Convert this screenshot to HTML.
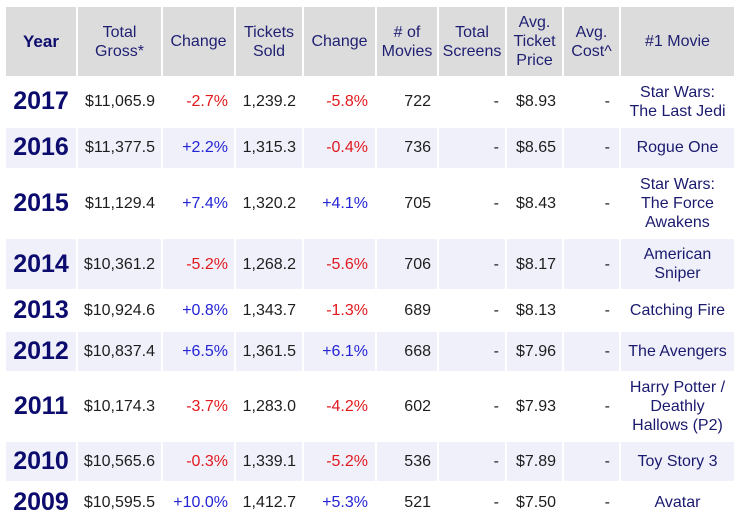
<!DOCTYPE html>
<html><head><meta charset="utf-8">
<style>
html,body{margin:0;padding:0;background:#fff;}
body{width:745px;height:524px;position:relative;overflow:hidden;font-family:"Liberation Sans",Arial,sans-serif;font-size:16px;color:#1e1e1e;}
.r{position:absolute;left:6px;display:flex;gap:2px;}
.c{height:100%;box-sizing:border-box;display:flex;align-items:center;justify-content:flex-end;padding:0 6px;line-height:19px;white-space:nowrap;}
.h .c{background:#dcdcdc;color:#1f1f72;justify-content:center;text-align:center;padding:0 2px;}
.b .c{background:#f0f0fb;}
.c1{width:70px;justify-content:center;padding:0;}
.c2{width:83px;}
.c3{width:71px;}
.c4{width:66px;}
.c5{width:71px;padding-right:7px;}
.c6{width:60px;}
.c7{width:66px;}
.c8{width:55px;}
.c9{width:55px;padding-right:9px;}
.c10{width:113px;justify-content:center;text-align:center;color:#1a1a6e;padding:0 2px;}
.y{font-weight:bold;font-size:25px;color:#0c0c6e;}
.h .c1{font-weight:bold;font-size:17px;color:#0c0c6e;}
.n{color:#e0191e;}
.p{color:#2424d4;}
</style></head><body>

<div class="r h" style="top:7px;height:69px">
<div class="c c1">Year</div>
<div class="c c2">Total<br>Gross*</div>
<div class="c c3">Change</div>
<div class="c c4">Tickets<br>Sold</div>
<div class="c c5">Change</div>
<div class="c c6"># of<br>Movies</div>
<div class="c c7">Total<br>Screens</div>
<div class="c c8">Avg.<br>Ticket<br>Price</div>
<div class="c c9">Avg.<br>Cost^</div>
<div class="c c10">#1 Movie</div>
</div>

<div class="r" style="top:77.2px;height:49.6px">
<div class="c c1 y">2017</div>
<div class="c c2">$11,065.9</div>
<div class="c c3 n">-2.7%</div>
<div class="c c4">1,239.2</div>
<div class="c c5 n">-5.8%</div>
<div class="c c6">722</div>
<div class="c c7">-</div>
<div class="c c8">$8.93</div>
<div class="c c9">-</div>
<div class="c c10">Star Wars:<br>The Last Jedi</div>
</div>

<div class="r b" style="top:128.3px;height:39.4px">
<div class="c c1 y">2016</div>
<div class="c c2">$11,377.5</div>
<div class="c c3 p">+2.2%</div>
<div class="c c4">1,315.3</div>
<div class="c c5 n">-0.4%</div>
<div class="c c6">736</div>
<div class="c c7">-</div>
<div class="c c8">$8.65</div>
<div class="c c9">-</div>
<div class="c c10">Rogue One</div>
</div>

<div class="r" style="top:169.2px;height:68.5px">
<div class="c c1 y">2015</div>
<div class="c c2">$11,129.4</div>
<div class="c c3 p">+7.4%</div>
<div class="c c4">1,320.2</div>
<div class="c c5 p">+4.1%</div>
<div class="c c6">705</div>
<div class="c c7">-</div>
<div class="c c8">$8.43</div>
<div class="c c9">-</div>
<div class="c c10">Star Wars:<br>The Force<br>Awakens</div>
</div>

<div class="r b" style="top:239.2px;height:50.1px">
<div class="c c1 y">2014</div>
<div class="c c2">$10,361.2</div>
<div class="c c3 n">-5.2%</div>
<div class="c c4">1,268.2</div>
<div class="c c5 n">-5.6%</div>
<div class="c c6">706</div>
<div class="c c7">-</div>
<div class="c c8">$8.17</div>
<div class="c c9">-</div>
<div class="c c10">American<br>Sniper</div>
</div>

<div class="r" style="top:290.8px;height:39.4px">
<div class="c c1 y">2013</div>
<div class="c c2">$10,924.6</div>
<div class="c c3 p">+0.8%</div>
<div class="c c4">1,343.7</div>
<div class="c c5 n">-1.3%</div>
<div class="c c6">689</div>
<div class="c c7">-</div>
<div class="c c8">$8.13</div>
<div class="c c9">-</div>
<div class="c c10">Catching Fire</div>
</div>

<div class="r b" style="top:331.7px;height:39px">
<div class="c c1 y">2012</div>
<div class="c c2">$10,837.4</div>
<div class="c c3 p">+6.5%</div>
<div class="c c4">1,361.5</div>
<div class="c c5 p">+6.1%</div>
<div class="c c6">668</div>
<div class="c c7">-</div>
<div class="c c8">$7.96</div>
<div class="c c9">-</div>
<div class="c c10">The Avengers</div>
</div>

<div class="r" style="top:372.2px;height:68.5px">
<div class="c c1 y">2011</div>
<div class="c c2">$10,174.3</div>
<div class="c c3 n">-3.7%</div>
<div class="c c4">1,283.0</div>
<div class="c c5 n">-4.2%</div>
<div class="c c6">602</div>
<div class="c c7">-</div>
<div class="c c8">$7.93</div>
<div class="c c9">-</div>
<div class="c c10">Harry Potter /<br>Deathly<br>Hallows (P2)</div>
</div>

<div class="r b" style="top:441.7px;height:39px">
<div class="c c1 y">2010</div>
<div class="c c2">$10,565.6</div>
<div class="c c3 n">-0.3%</div>
<div class="c c4">1,339.1</div>
<div class="c c5 n">-5.2%</div>
<div class="c c6">536</div>
<div class="c c7">-</div>
<div class="c c8">$7.89</div>
<div class="c c9">-</div>
<div class="c c10">Toy Story 3</div>
</div>

<div class="r" style="top:482.2px;height:40px">
<div class="c c1 y">2009</div>
<div class="c c2">$10,595.5</div>
<div class="c c3 p">+10.0%</div>
<div class="c c4">1,412.7</div>
<div class="c c5 p">+5.3%</div>
<div class="c c6">521</div>
<div class="c c7">-</div>
<div class="c c8">$7.50</div>
<div class="c c9">-</div>
<div class="c c10">Avatar</div>
</div>

</body></html>
